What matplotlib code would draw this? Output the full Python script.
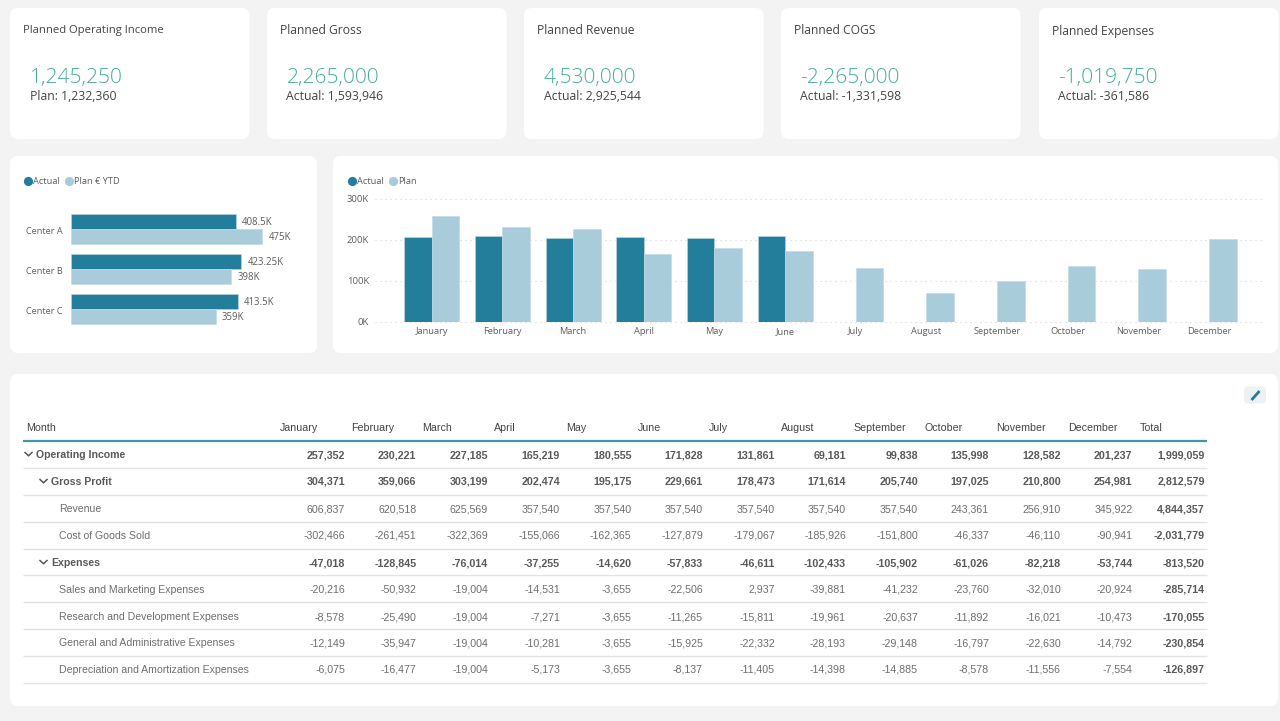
import matplotlib
matplotlib.use("Agg")
import matplotlib.pyplot as plt
from matplotlib.patches import FancyBboxPatch
from matplotlib.transforms import ScaledTranslation
import numpy as np

UI = "Open Sans"
TB = "Liberation Sans"
DARK = "#237e9b"
LIGHT = "#a8ccd9"
TEAL = "#47ad9c"
GREY = "#605e5c"

kpi_titles = ["Planned Operating Income", "Planned Gross", "Planned Revenue", "Planned COGS", "Planned Expenses"]
kpi_values = ["1,245,250", "2,265,000", "4,530,000", "-2,265,000", "-1,019,750"]
kpi_subs = ["Plan: 1,232,360", "Actual: 1,593,946", "Actual: 2,925,544", "Actual: -1,331,598", "Actual: -361,586"]
kpi_left = [10, 267, 524, 781, 1039]

centers = ["Center A", "Center B", "Center C"]
center_actual = [408.5, 423.25, 413.5]
center_plan = [475, 398, 359]
center_actual_labels = ["408.5K", "423.25K", "413.5K"]
center_plan_labels = ["475K", "398K", "359K"]

months = ["January", "February", "March", "April", "May", "June", "July", "August",
          "September", "October", "November", "December"]
monthly_actual = [207, 209, 205, 207, 205, 209]
monthly_plan = [257.352, 230.221, 227.185, 165.219, 180.555, 171.828, 131.861, 69.181,
                99.838, 135.998, 128.582, 201.237]

table_header = ["January", "February", "March", "April", "May", "June", "July", "August",
                "September", "October", "November", "December", "Total"]
row_names = ["Operating Income", "Gross Profit", "Revenue", "Cost of Goods Sold", "Expenses",
             "Sales and Marketing Expenses", "Research and Development Expenses",
             "General and Administrative Expenses", "Depreciation and Amortization Expenses"]
row_levels = [0, 1, 2, 2, 1, 2, 2, 2, 2]
row_bold = [True, True, False, False, True, False, False, False, False]
r_operating = ["257,352", "230,221", "227,185", "165,219", "180,555", "171,828", "131,861", "69,181", "99,838", "135,998", "128,582", "201,237", "1,999,059"]
r_gross = ["304,371", "359,066", "303,199", "202,474", "195,175", "229,661", "178,473", "171,614", "205,740", "197,025", "210,800", "254,981", "2,812,579"]
r_revenue = ["606,837", "620,518", "625,569", "357,540", "357,540", "357,540", "357,540", "357,540", "357,540", "243,361", "256,910", "345,922", "4,844,357"]
r_cogs = ["-302,466", "-261,451", "-322,369", "-155,066", "-162,365", "-127,879", "-179,067", "-185,926", "-151,800", "-46,337", "-46,110", "-90,941", "-2,031,779"]
r_expenses = ["-47,018", "-128,845", "-76,014", "-37,255", "-14,620", "-57,833", "-46,611", "-102,433", "-105,902", "-61,026", "-82,218", "-53,744", "-813,520"]
r_sales = ["-20,216", "-50,932", "-19,004", "-14,531", "-3,655", "-22,506", "2,937", "-39,881", "-41,232", "-23,760", "-32,010", "-20,924", "-285,714"]
r_research = ["-8,578", "-25,490", "-19,004", "-7,271", "-3,655", "-11,265", "-15,811", "-19,961", "-20,637", "-11,892", "-16,021", "-10,473", "-170,055"]
r_general = ["-12,149", "-35,947", "-19,004", "-10,281", "-3,655", "-15,925", "-22,332", "-28,193", "-29,148", "-16,797", "-22,630", "-14,792", "-230,854"]
r_deprec = ["-6,075", "-16,477", "-19,004", "-5,173", "-3,655", "-8,137", "-11,405", "-14,398", "-14,885", "-8,578", "-11,556", "-7,554", "-126,897"]
rows = [r_operating, r_gross, r_revenue, r_cogs, r_expenses, r_sales, r_research, r_general, r_deprec]

W, H = 1280, 721
fig = plt.figure(figsize=(W / 100, H / 100), dpi=100, facecolor="#f3f3f3")

bg = fig.add_axes([0, 0, 1, 1], zorder=0)
bg.set_xlim(0, W)
bg.set_ylim(H, 0)
bg.axis("off")


def card(x0, y0, x1, y1):
    bg.add_patch(FancyBboxPatch((x0, y0), x1 - x0, y1 - y0,
                                boxstyle="round,pad=0,rounding_size=8",
                                fc="white", ec="none", mutation_aspect=1))


def px_axes(x0, y0, x1, y1):
    ax = fig.add_axes([x0 / W, 1 - y1 / H, (x1 - x0) / W, (y1 - y0) / H], zorder=2)
    ax.patch.set_alpha(0)
    for s in ax.spines.values():
        s.set_visible(False)
    return ax


# KPI cards
for n, (x, t, v, s) in enumerate(zip(kpi_left, kpi_titles, kpi_values, kpi_subs)):
    card(x, 8, x + 239.5, 139)
    bg.text(x + 13, 31, t, family=UI, fontsize=8.1 if n == 0 else 8.7, color="#444444", va="center", ha="left")
    bg.text(x + 19.5, 78, v, family=UI, fontsize=15.1, weight="light", color=TEAL, va="center", ha="left")
    bg.text(x + 19.5, 96, s, family=UI, fontsize=8.8, color="#444444", va="center", ha="left")

card(10, 156, 317, 353)
card(333, 156, 1278, 353)
card(10, 374, 1278, 706)


def legend(y, entries):
    for lx, color, tx, label in entries:
        bg.scatter([lx], [y], s=44, color=color, linewidths=0, zorder=3)
        bg.text(tx, y, label, family=UI, fontsize=6.7, color=GREY, va="center", ha="left")


legend(181, [(27.5, DARK, 33, "Actual"), (69, LIGHT, 74.5, "Plan € YTD")])
legend(181, [(351.5, DARK, 357, "Actual"), (393, LIGHT, 398, "Plan")])

EDGE = "#c0dae3"
down1 = ScaledTranslation(0, -1 / 100, fig.dpi_scale_trans)

# Horizontal bars
ax1 = px_axes(70.5, 209, 299.5, 329)
ypos = np.arange(len(centers))
bh = 0.375
ax1.barh(ypos - bh / 2, center_actual, height=bh, color=DARK, edgecolor=EDGE, linewidth=0.4)
ax1.barh(ypos + bh / 2, center_plan, height=bh, color=LIGHT, edgecolor=EDGE, linewidth=0.4)
ax1.set_xlim(0, 229 / 0.404)
ax1.set_ylim(2.5, -0.5)
ax1.set_yticks(ypos)
ax1.set_yticklabels(centers, family=UI, fontsize=6.6, color=GREY)
ax1.tick_params(axis="y", length=0, pad=5.6)
for lab in ax1.get_yticklabels():
    lab.set_transform(lab.get_transform() + down1)
ax1.set_xticks([])
for i in ypos:
    ax1.annotate(center_actual_labels[i], (center_actual[i], i - bh / 2), xytext=(6.5, -1),
                 textcoords="offset pixels", family=UI, fontsize=6.9, color=GREY, va="center")
    ax1.annotate(center_plan_labels[i], (center_plan[i], i + bh / 2), xytext=(6.5, -1),
                 textcoords="offset pixels", family=UI, fontsize=6.9, color=GREY, va="center")

# Columns
ax2 = px_axes(375, 199, 1265, 321.5)
xpos = np.arange(len(months))
bw = 0.39
ax2.bar(xpos[:len(monthly_actual)] - bw / 2, monthly_actual, width=bw, color=DARK,
        edgecolor=EDGE, linewidth=0.4, zorder=3)
ax2.bar(xpos + bw / 2, monthly_plan, width=bw, color=LIGHT,
        edgecolor=EDGE, linewidth=0.4, zorder=3)
ax2.set_xlim(-0.5 - 21.4 / 70.6, 11.5 + 20.6 / 70.6)
ax2.set_ylim(0, 300)
ax2.set_yticks([0, 100, 200, 300])
ax2.set_yticklabels(["0K", "100K", "200K", "300K"], family=UI, fontsize=6.8, color=GREY)
ax2.set_xticks(xpos)
ax2.set_xticklabels(months, family=UI, fontsize=6.7, color=GREY)
ax2.tick_params(axis="both", length=0)
ax2.tick_params(axis="y", pad=4.3)
ax2.tick_params(axis="x", pad=7.4)
for lab in ax2.get_xticklabels():
    lab.set_va("center")
ax2.grid(axis="y", color="#d4d4d4", linestyle=(0, (1, 3.5)), linewidth=0.8, zorder=0)
ax2.set_axisbelow(True)
for g in ax2.get_ygridlines():
    g.set_clip_on(False)

# Table
col_right = [345, 416.5, 488, 560, 631.5, 703, 775, 846, 918, 989, 1061, 1132.5, 1205]
col_left = [279.5, 351.5, 422.5, 494, 566, 638, 709, 781, 853, 924.5, 996, 1068, 1140]
row_y = [454, 481, 508, 535, 562, 589, 616, 642.5, 669]
row_line = [467.5, 494.5, 521.5, 548.5, 575, 602, 629, 656, 683]
TFS = 7.7
NFS = 7.55
VA = "center_baseline"
bg.text(26, 427, "Month", family=TB, fontsize=TFS, color="#444444", va=VA, ha="left")
for x, h in zip(col_left, table_header):
    bg.text(x, 427, h, family=TB, fontsize=TFS, color="#444444", va=VA, ha="left")
bg.plot([23, 1207], [440.5, 440.5], color="#3f94b3", lw=1.6, solid_capstyle="butt")
indent = {0: 36, 1: 51, 2: 59}
for y, yl, name, lev, bold, vals in zip(row_y, row_line, row_names, row_levels, row_bold, rows):
    weight = "bold" if bold else "normal"
    col = "#595959" if bold else "#6e6e6e"
    bg.text(indent[lev], y, name, family=TB, fontsize=NFS, color=col, weight=weight, va=VA, ha="left")
    if bold:
        cx = indent[lev] - 7.5
        bg.plot([cx - 3.5, cx, cx + 3.5], [y - 1.5, y + 1.8, y - 1.5], color="#555555", lw=1.1)
    for i, (xr, v) in enumerate(zip(col_right, vals)):
        is_total = i == len(vals) - 1
        b = bold or is_total
        bg.text(xr, y, v, family=TB, fontsize=TFS, color="#595959" if b else "#6e6e6e",
                weight="bold" if b else "normal", va=VA, ha="right")
    bg.plot([23, 1207], [yl, yl], color="#e3e3e3", lw=1, solid_capstyle="butt")

# Edit button
bg.add_patch(FancyBboxPatch((1244, 386.5), 22, 17, boxstyle="round,pad=0,rounding_size=4",
                            fc="#eef1f2", ec="none"))
bg.plot([1251.5, 1259.5], [400, 391], color=DARK, lw=2, solid_capstyle="butt")

fig.savefig("out.png", dpi=100, facecolor=fig.get_facecolor())
